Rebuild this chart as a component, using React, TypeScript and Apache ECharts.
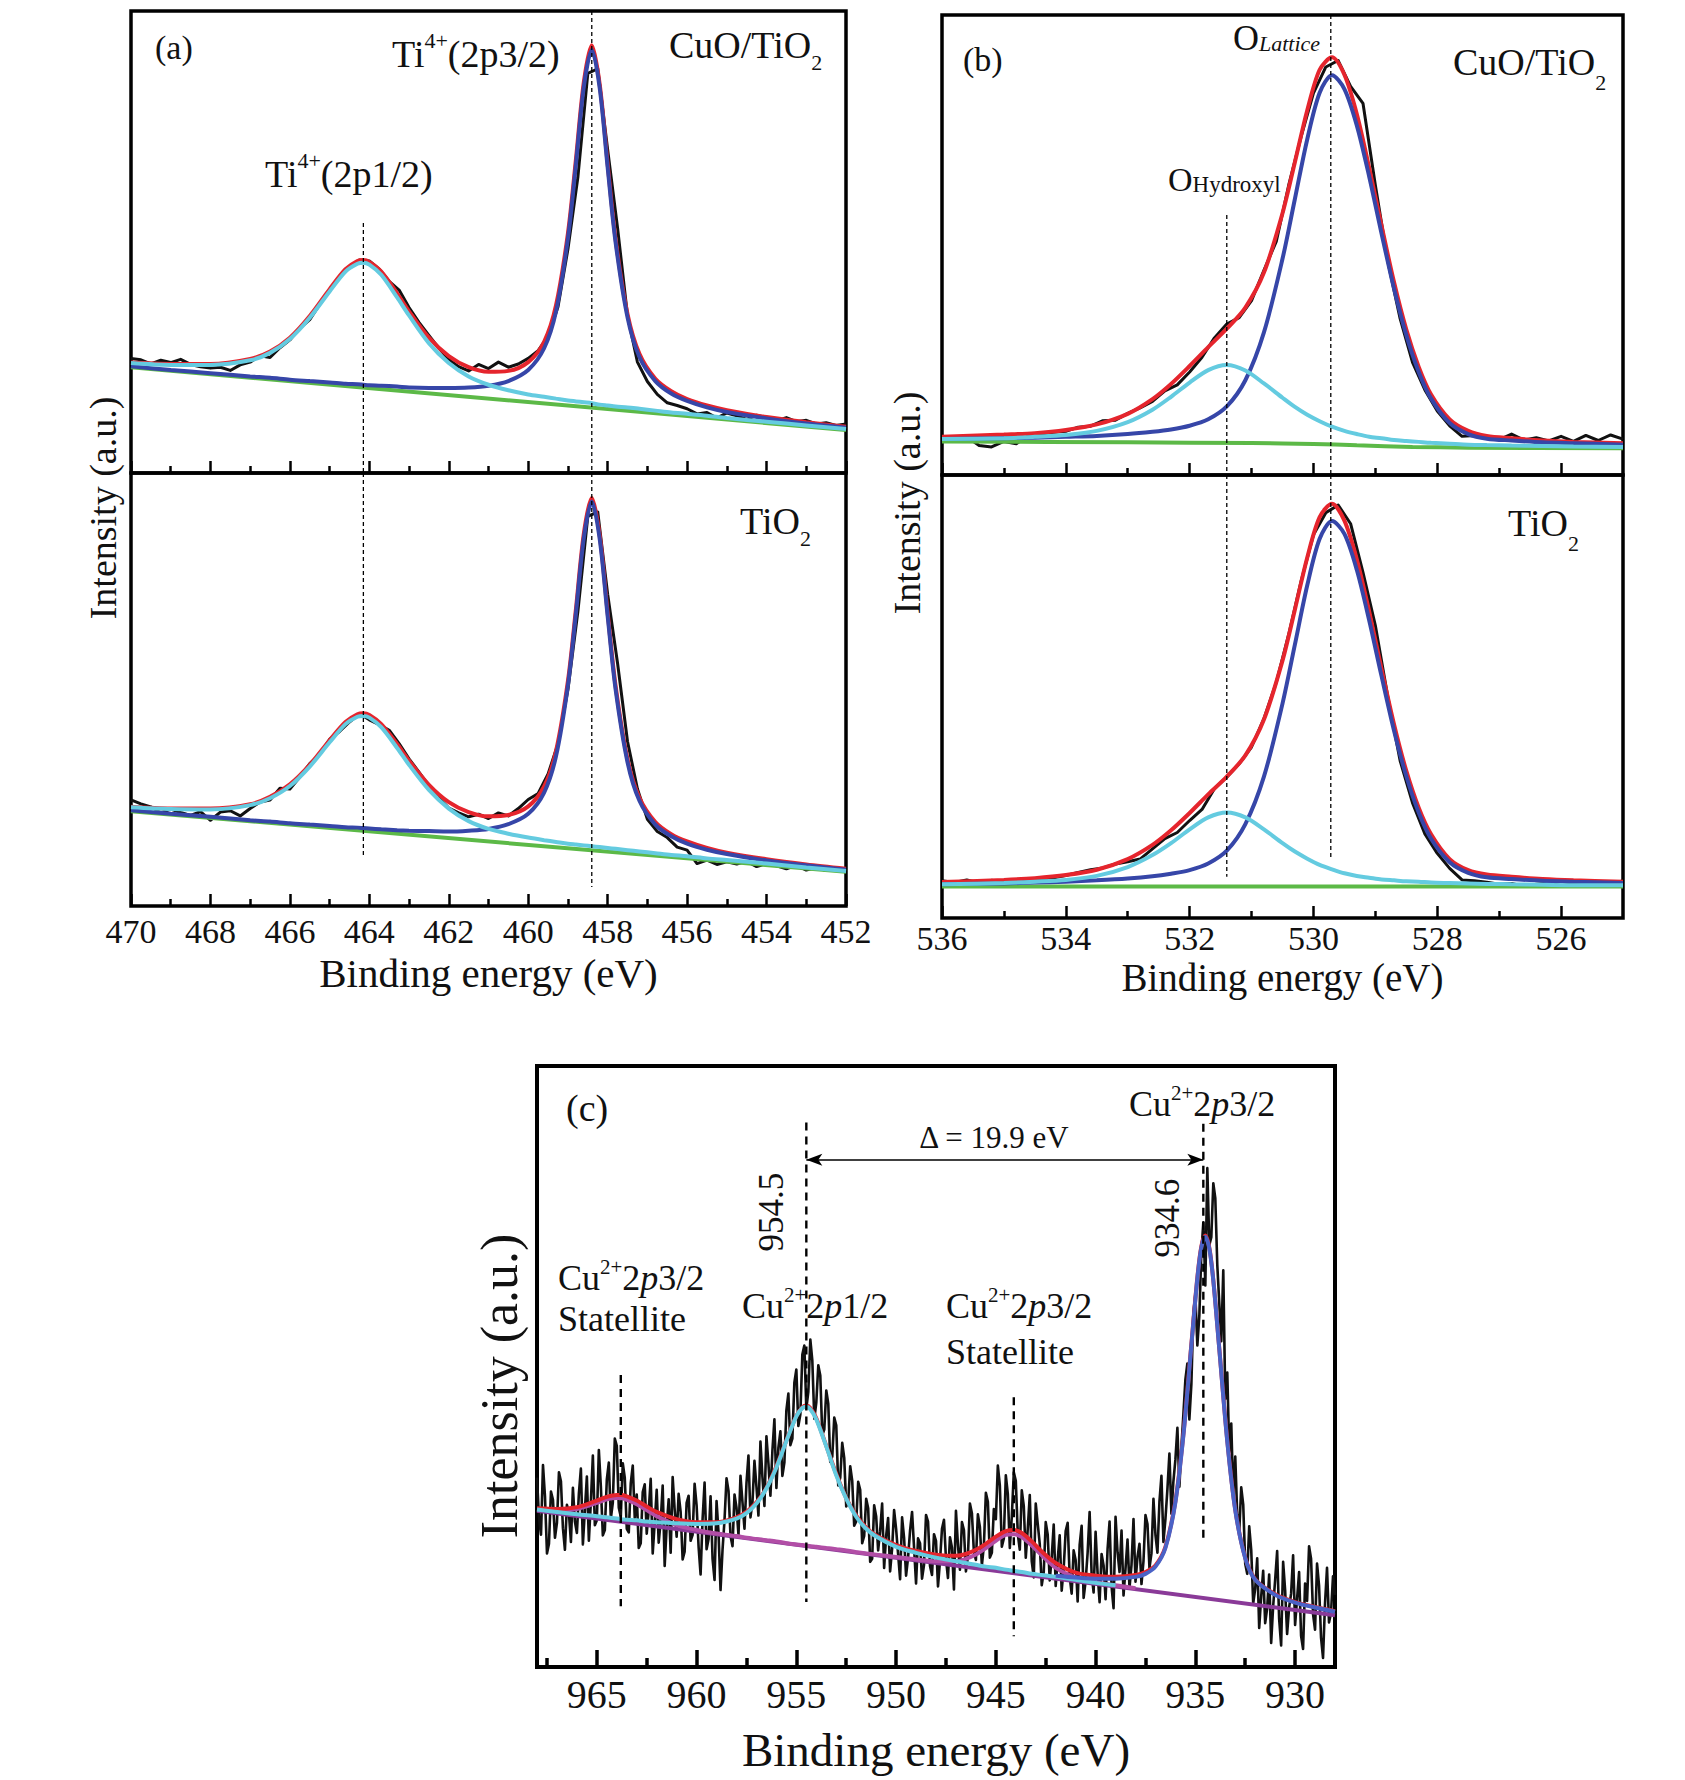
import React, { useEffect, useRef } from "react";
import * as echarts from "echarts";

const SERIF = '"Liberation Serif", "Times New Roman", Times, serif';
const INK = "#111111";
const RED = "#e5252d";
const NAVY = "#3646a8";
const CYAN = "#64cbe0";
const GREEN = "#5cb947";
const PURPLE = "#8a3a98";
const MAGENTA = "#b24ea6";
const CU_BLUE = "#4a62c6";

// ---------------- (a) Ti 2p ----------------
const tiFitEnergy = [470, 469, 468, 467, 466.5, 466, 465.5, 465, 464.6, 464.3, 464.15, 464, 463.7, 463.3, 463, 462.5, 462, 461.5, 461, 460.5, 460, 459.6, 459.3, 459, 458.8, 458.6, 458.4, 458.2, 458, 457.8, 457.5, 457.2, 456.8, 456.4, 456, 455.5, 455, 454, 453, 452];

const tiCuoEnvelope = [23.9, 23.6, 23.6, 24.7, 26.3, 29.3, 34.0, 39.8, 44.1, 45.9, 46.1, 45.7, 43.6, 38.9, 35.0, 29.3, 25.3, 22.9, 21.9, 22.1, 24.0, 28.4, 36.3, 51.9, 67.8, 84.6, 92.6, 84.1, 66.9, 50.6, 34.4, 25.8, 20.4, 17.7, 16.0, 14.6, 13.6, 12.1, 11.0, 10.0];
const tiCuoP32 = [23.1, 22.3, 21.6, 20.9, 20.6, 20.2, 19.9, 19.6, 19.3, 19.2, 19.1, 19.0, 18.9, 18.7, 18.5, 18.4, 18.4, 18.5, 18.9, 19.9, 22.3, 27.0, 35.0, 50.8, 66.7, 83.6, 91.6, 83.3, 66.1, 49.9, 33.7, 25.1, 19.9, 17.2, 15.6, 14.2, 13.2, 11.8, 10.7, 9.8];
const tiCuoP12 = [23.8, 23.4, 23.4, 24.4, 26.0, 29.0, 33.6, 39.3, 43.6, 45.3, 45.5, 45.1, 42.9, 38.0, 34.1, 28.1, 23.8, 20.9, 19.1, 17.9, 17.0, 16.5, 16.1, 15.7, 15.5, 15.3, 15.1, 14.8, 14.6, 14.4, 14.2, 13.9, 13.5, 13.1, 12.8, 12.4, 11.9, 11.1, 10.3, 9.5];
const tiCuoBackground = [[470, 22.9], [452, 9.3]];

const tiTio2Envelope = [22.9, 22.5, 22.5, 23.5, 25.2, 28.1, 32.6, 38.3, 42.5, 44.3, 44.5, 44.1, 42.0, 37.4, 33.6, 28.0, 24.0, 21.7, 20.7, 21.0, 23.0, 27.6, 35.8, 52.0, 68.5, 86.0, 94.3, 85.6, 67.7, 50.8, 33.9, 25.0, 19.4, 16.6, 14.9, 13.4, 12.3, 10.8, 9.6, 8.6];
const tiTio2P32 = [22.1, 21.3, 20.6, 19.8, 19.5, 19.1, 18.8, 18.5, 18.2, 18.1, 18.0, 17.9, 17.7, 17.5, 17.4, 17.3, 17.2, 17.4, 17.8, 18.9, 21.3, 26.2, 34.6, 51.0, 67.5, 85.0, 93.4, 84.7, 66.9, 50.0, 33.2, 24.3, 18.8, 16.1, 14.4, 13.0, 12.0, 10.5, 9.4, 8.4];
const tiTio2P12 = [22.8, 22.4, 22.3, 23.3, 24.9, 27.7, 32.2, 37.8, 42.0, 43.7, 43.9, 43.5, 41.3, 36.5, 32.6, 26.8, 22.5, 19.6, 17.8, 16.7, 15.8, 15.2, 14.8, 14.4, 14.2, 14.0, 13.8, 13.6, 13.4, 13.2, 12.9, 12.6, 12.2, 11.8, 11.5, 11.0, 10.6, 9.8, 8.9, 8.1];
const tiTio2Background = [[470, 21.9], [452, 7.9]];

// measured spectra, 0.25 eV steps from 470 eV downwards
const tiRawStart = 470;
const tiRawStep = 0.25;
const tiCuoRaw = [24.8, 24.5, 23.6, 24.4, 23.9, 24.6, 23.5, 23.0, 22.7, 22.9, 22.2, 23.4, 24.0, 25.4, 25.0, 27.1, 28.8, 31.3, 33.2, 36.5, 39.5, 42.5, 44.6, 46.1, 45.9, 44.1, 41.5, 39.6, 35.8, 32.6, 29.8, 27.0, 24.6, 23.0, 22.1, 23.5, 22.6, 24.0, 22.9, 23.6, 24.8, 26.5, 29.6, 36.0, 48.5, 64.0, 86.5, 87.5, 70.0, 53.0, 34.0, 24.0, 19.8, 17.0, 15.2, 14.6, 13.9, 12.8, 13.1, 11.9, 13.0, 12.4, 11.6, 12.5, 12.0, 11.3, 12.0, 11.1, 11.4, 10.6, 10.9, 10.3, 10.6];
const tiTio2Raw = [24.5, 23.6, 22.9, 21.5, 22.4, 21.6, 20.9, 21.8, 19.8, 21.7, 22.0, 20.8, 22.5, 24.0, 24.5, 27.2, 27.0, 29.8, 32.9, 35.0, 38.5, 40.3, 42.5, 44.4, 43.0, 41.9, 40.6, 37.5, 34.0, 30.9, 27.8, 25.0, 22.6, 21.5, 20.6, 21.2, 20.2, 21.5, 20.8, 22.5, 24.6, 26.0, 30.5, 37.5, 50.0, 68.0, 90.0, 91.0, 72.0, 56.0, 38.0, 27.0, 20.0, 17.2, 15.8, 13.6, 12.9, 9.8, 10.6, 9.6, 10.2, 9.7, 10.3, 9.1, 9.8, 9.3, 8.6, 9.4, 8.3, 8.9, 8.2, 8.6, 8.0];

const tiMajorTicks = [452, 454, 456, 458, 460, 462, 464, 466, 468, 470];
const tiMinorTicks = [453, 455, 457, 459, 461, 463, 465, 467, 469];

// ---------------- (b) O 1s ----------------
const oFitEnergy = [536, 535, 534.5, 534, 533.5, 533, 532.6, 532.3, 532, 531.7, 531.4, 531.1, 530.8, 530.5, 530.3, 530.1, 529.9, 529.7, 529.5, 529.3, 529.1, 528.9, 528.7, 528.5, 528.3, 528.1, 527.8, 527.5, 527.2, 526.8, 526.3, 525.8, 525];

const oCuoEnvelope = [8.3, 8.8, 9.1, 9.8, 11.0, 13.3, 16.5, 19.8, 23.7, 27.8, 31.8, 36.4, 44.0, 56.9, 68.0, 79.3, 88.1, 90.8, 87.0, 78.5, 66.8, 54.2, 42.0, 31.6, 23.5, 17.5, 12.1, 9.6, 8.5, 8.0, 7.5, 7.2, 6.9];
const oCuoLattice = [7.8, 8.0, 8.1, 8.3, 8.5, 8.9, 9.4, 9.9, 10.7, 12.1, 14.9, 20.6, 31.0, 47.0, 60.0, 73.0, 83.1, 86.9, 83.9, 76.0, 64.9, 52.5, 40.6, 30.4, 22.4, 16.6, 11.3, 8.9, 7.9, 7.5, 7.1, 6.9, 6.6];
const oCuoHydroxyl = [7.8, 8.0, 8.3, 8.7, 9.6, 11.5, 14.2, 17.0, 20.1, 22.8, 23.9, 22.7, 19.9, 16.8, 14.8, 13.1, 11.7, 10.5, 9.6, 8.9, 8.3, 8.0, 7.6, 7.4, 7.2, 7.0, 6.8, 6.6, 6.5, 6.4, 6.3, 6.2, 6.1];
const oCuoBackground = [[536, 7.3], [533, 7.1], [531, 6.95], [530, 6.75], [529.3, 6.45], [528.4, 6.1], [527.5, 5.95], [525, 5.8]];

const oTio2Envelope = [8.1, 8.6, 9.0, 9.7, 10.9, 13.3, 16.5, 19.8, 23.7, 27.9, 31.9, 36.7, 44.8, 58.1, 69.6, 81.4, 90.5, 93.5, 89.7, 81.0, 69.2, 56.2, 43.8, 33.2, 24.9, 18.9, 13.3, 10.8, 9.8, 9.3, 8.8, 8.5, 8.2];
const oTio2Lattice = [7.6, 7.8, 8.0, 8.2, 8.5, 8.9, 9.4, 10.0, 10.8, 12.3, 15.2, 21.2, 31.9, 48.4, 61.7, 75.1, 85.6, 89.6, 86.7, 78.6, 67.2, 54.6, 42.4, 32.0, 23.8, 17.9, 12.6, 10.2, 9.2, 8.8, 8.4, 8.2, 7.9];
const oTio2Hydroxyl = [7.6, 7.9, 8.2, 8.6, 9.5, 11.5, 14.2, 16.9, 20.0, 22.7, 23.8, 22.7, 20.0, 16.9, 15.0, 13.4, 12.0, 11.0, 10.1, 9.5, 9.1, 8.7, 8.5, 8.3, 8.2, 8.0, 7.9, 7.8, 7.7, 7.6, 7.5, 7.4, 7.4];
const oTio2Background = [[536, 7.1], [525, 7.1]];

// measured spectra, 0.2 eV steps from 536 eV downwards
const oRawStart = 536;
const oRawStep = 0.2;
const oCuoRaw = [8.0, 7.6, 8.3, 6.4, 6.1, 7.3, 6.8, 8.6, 8.9, 9.3, 9.5, 10.4, 10.6, 11.8, 11.9, 13.4, 14.6, 16.0, 18.3, 19.6, 22.4, 25.6, 29.8, 32.8, 34.2, 37.9, 44.5, 50.8, 63.0, 73.5, 83.0, 88.7, 90.1, 84.5, 80.8, 63.0, 46.5, 34.0, 24.5, 18.5, 13.9, 10.7, 8.4, 8.6, 8.3, 7.7, 8.9, 7.6, 8.1, 7.4, 8.4, 7.3, 8.6, 7.5, 8.7, 7.8];
const oTio2Raw = [8.4, 8.0, 8.6, 7.9, 8.5, 8.0, 8.4, 8.9, 8.6, 9.1, 9.6, 10.3, 10.9, 11.3, 12.2, 12.7, 13.3, 15.6, 17.9, 19.3, 22.0, 24.5, 29.2, 31.8, 34.8, 38.6, 45.0, 53.2, 64.0, 76.0, 86.5, 91.5, 93.2, 89.0, 78.0, 66.0, 50.0, 35.5, 26.0, 19.0, 14.6, 11.2, 8.6, 8.4, 8.1, 7.6, 7.8, 7.2, 7.6, 7.9, 7.3, 7.7, 7.4, 7.8, 7.5, 8.4];

const oMajorTicks = [526, 528, 530, 532, 534, 536];
const oMinorTicks = [527, 529, 531, 533, 535];

// ---------------- (c) Cu 2p ----------------
const cuFitEnergy = [968, 967, 966, 965, 964.5, 964, 963.8, 963.5, 963, 962.5, 962, 961, 960, 959, 958, 957.5, 957, 956.5, 956, 955.5, 955, 954.7, 954.5, 954.3, 954, 953.5, 953, 952.5, 952, 951.5, 951, 950, 949, 948, 947, 946.5, 946, 945.5, 945, 944.5, 944.1, 943.7, 943.2, 942.7, 942, 941, 940, 939, 938, 937.5, 937, 936.5, 936, 935.6, 935.2, 934.9, 934.7, 934.5, 934.3, 934.1, 933.8, 933.4, 933, 932.5, 932, 931, 930, 929, 928];

const cuEnvelope = [26.4, 26.3, 26.6, 27.7, 28.3, 28.6, 28.6, 28.4, 27.7, 26.7, 25.8, 24.6, 24.1, 24.1, 24.9, 25.8, 27.4, 29.8, 33.4, 37.7, 41.8, 43.2, 43.5, 43.1, 41.4, 36.8, 32.1, 28.1, 25.2, 23.2, 21.9, 20.3, 19.3, 18.7, 18.5, 18.8, 19.5, 20.5, 21.7, 22.6, 22.8, 22.3, 20.9, 19.2, 17.3, 15.7, 15.2, 15.0, 15.3, 15.8, 16.9, 20.0, 27.6, 38.7, 53.7, 64.8, 70.0, 71.8, 69.8, 64.4, 53.0, 37.7, 26.2, 18.2, 14.6, 12.1, 10.8, 10.0, 9.3];
const cu2p12 = [26.2, 25.8, 25.4, 25.1, 24.9, 24.7, 24.6, 24.5, 24.4, 24.2, 24.1, 23.9, 23.8, 23.9, 24.7, 25.6, 27.2, 29.7, 33.2, 37.6, 41.7, 43.1, 43.3, 42.9, 41.2, 36.7, 31.9, 28.0, 25.0, 23.0, 21.7, 20.0, 19.0, 18.2, 17.6, 17.3, 17.0, 16.7, 16.5, 16.2, 16.0, 15.8, 15.5, 15.3, 15.0, 14.5, 14.0, 13.6, 13.1, 12.9, 12.7, 12.4, 12.2, 12.0, 11.9, 11.7, 11.6, 11.5, 11.5, 11.4, 11.2, 11.1, 10.9, 10.7, 10.4, 10.0, 9.5, 9.1, 8.7];
const cuSatellites = [26.2, 26.0, 26.3, 27.3, 27.9, 28.1, 28.1, 27.8, 27.1, 26.1, 25.1, 23.6, 22.8, 22.2, 21.8, 21.5, 21.3, 21.1, 20.9, 20.6, 20.4, 20.3, 20.2, 20.1, 20.0, 19.8, 19.6, 19.4, 19.1, 18.9, 18.7, 18.3, 17.9, 17.6, 17.6, 18.0, 18.7, 19.8, 21.0, 22.0, 22.1, 21.6, 20.2, 18.6, 16.5, 14.9, 14.1, 13.6, 13.1, 12.8, 12.6, 12.4, 12.2, 12.0, 11.8, 11.7, 11.6, 11.5, 11.4, 11.3, 11.2, 11.0, 10.8, 10.6, 10.4, 10.0, 9.5, 9.1, 8.6];
const cu2p32 = [26.0, 25.6, 25.2, 24.7, 24.5, 24.3, 24.2, 24.1, 23.9, 23.6, 23.4, 23.0, 22.6, 22.1, 21.7, 21.5, 21.3, 21.1, 20.8, 20.6, 20.4, 20.3, 20.2, 20.1, 20.0, 19.8, 19.6, 19.3, 19.1, 18.9, 18.7, 18.3, 17.9, 17.5, 17.0, 16.8, 16.6, 16.4, 16.2, 16.1, 15.9, 15.8, 15.6, 15.4, 15.2, 14.9, 14.7, 14.7, 15.0, 15.5, 16.7, 19.8, 27.4, 38.5, 53.5, 64.6, 69.8, 71.6, 69.6, 64.3, 52.9, 37.5, 26.1, 18.1, 14.5, 12.0, 10.7, 9.9, 9.2];
const cuBackground = [[968, 26.0], [928, 8.6]];

// measured spectrum, 0.1 eV steps from 968 eV downwards
const cuRawStart = 968;
const cuRawStep = 0.1;
const cuRaw = [
  31.5, 24.8, 22.0, 33.6, 28.4, 18.9, 20.5, 29.2, 27.8, 21.5, 24.0, 32.4, 30.9, 23.1, 19.5, 27.0, 25.6, 20.8, 29.8, 24.2,
  22.3, 28.9, 33.0, 20.4, 26.1, 31.7, 21.0, 27.5, 35.2, 23.6, 24.4, 36.1, 30.1, 21.9, 22.8, 31.2, 34.0, 24.7, 27.3, 38.0,
  36.8, 26.5, 25.0, 33.9, 31.5, 23.0, 22.4, 30.6, 33.5, 24.8, 28.7, 19.8, 20.6, 29.1, 30.4, 22.2, 26.0, 31.3, 18.9, 24.0,
  29.5, 20.7, 24.3, 30.2, 16.8, 23.4, 27.9, 19.0, 31.6, 26.2, 21.7, 28.8, 25.8, 17.9, 19.2, 27.3, 28.5, 21.0, 22.0, 30.5,
  26.9, 20.0, 15.4, 24.6, 30.7, 19.6, 21.3, 28.4, 18.0, 14.5, 27.6, 22.3, 12.8, 19.5, 24.5, 31.4, 29.3, 21.8, 20.1, 28.7,
  26.5, 22.0, 31.8, 27.4, 23.0, 30.6, 35.2, 24.9, 27.4, 34.3, 30.0, 25.2, 37.5, 31.6, 26.8, 38.4, 33.9, 28.5, 36.0, 41.2,
  29.8, 36.5, 39.2, 31.8, 34.0, 42.7, 45.5, 36.9, 38.0, 47.3, 49.5, 40.1, 42.0, 52.0, 53.5, 43.0, 45.8, 54.5, 51.0, 41.3,
  44.0, 50.2, 48.5, 38.6, 39.5, 46.0, 43.8, 34.1, 35.0, 41.5, 40.2, 30.2, 31.5, 37.3, 34.8, 26.7, 27.6, 33.4, 31.0, 23.5,
  24.2, 30.8, 29.5, 20.6, 21.8, 28.0, 26.4, 17.5, 18.0, 26.9, 25.1, 19.4, 22.6, 27.2, 16.5, 21.8, 24.8, 15.9, 19.7, 26.1,
  23.0, 18.8, 14.6, 24.9, 21.5, 15.2, 18.2, 22.7, 25.8, 19.9, 13.9, 21.4, 20.6, 14.7, 17.0, 25.3, 24.2, 16.8, 15.3, 22.1,
  21.0, 13.4, 17.6, 23.0, 24.5, 18.0, 14.8, 21.6, 19.9, 12.9, 26.0, 20.3, 16.2, 24.1, 22.8, 15.9, 18.4, 27.2, 25.6, 19.1,
  17.8, 25.4, 23.3, 16.9, 20.2, 29.0, 27.5, 18.2, 19.0, 26.3, 24.6, 33.5, 30.2, 20.0, 21.4, 31.9, 28.8, 19.8, 25.0, 32.4,
  31.0, 22.1, 19.5, 29.4, 26.8, 18.2, 23.0, 28.6, 17.6, 14.9, 27.2, 23.8, 20.5, 13.6, 15.8, 24.1, 22.0, 14.4, 18.3, 23.7,
  13.5, 17.9, 21.9, 12.7, 16.4, 22.6, 24.0, 15.1, 12.2, 19.4, 17.8, 10.9, 20.3, 23.5, 11.5, 14.3, 19.0, 25.8, 15.5, 12.4,
  22.5, 15.6, 10.8, 18.8, 16.9, 11.3, 19.6, 24.2, 13.4, 9.8, 25.0, 19.1, 15.8, 22.7, 11.9, 16.4, 21.2, 13.2, 17.0, 24.6,
  14.2, 18.3, 20.5, 13.8, 17.6, 25.3, 23.8, 16.5, 18.9, 28.0, 22.0, 19.0, 27.5, 31.8, 20.8, 24.6, 29.6, 35.5, 25.5, 30.9,
  34.5, 39.8, 30.0, 36.6, 42.0, 47.8, 50.5, 41.2, 47.0, 58.9, 62.0, 53.5, 58.5, 68.9, 74.0, 63.5, 83.0, 70.2, 71.5, 80.5,
  78.0, 66.9, 60.5, 54.2, 66.0, 44.6, 49.0, 35.8, 40.5, 28.4, 35.0, 25.3, 22.5, 29.9, 27.0, 17.2, 15.5, 23.4, 19.5, 10.6,
  13.0, 18.1, 6.5, 11.7, 16.0, 7.3, 9.8, 15.4, 4.0, 10.1, 14.5, 19.3, 8.0, 3.6, 17.5, 12.8, 5.5, 9.9, 12.2, 18.6,
  7.0, 11.4, 15.8, 5.2, 3.0, 13.9, 11.0, 20.1, 18.0, 8.8, 6.2, 17.2, 13.6, 4.9, 1.5, 10.6, 16.5, 7.4, 9.0, 15.1,
  12.0,
];

const cuMajorTicks = [930, 935, 940, 945, 950, 955, 960, 965];
const cuMinorTicks = [932.5, 937.5, 942.5, 947.5, 952.5, 957.5, 962.5, 967.5];

// peak markers: [energy, top, bottom] in each panel's 0-100 intensity scale
const tiMarkersUpper = [[464.15, 54.1, 0], [458.4, 100, 0]];
const tiMarkersLower = [[464.15, 100, 11.3], [458.4, 100, 4.4]];
const oMarkersUpper = [[531.4, 56.5, 0], [529.72, 100, 0]];
const oMarkersLower = [[531.4, 100, 9.3], [529.72, 100, 13.5]];
const cuMarkers = [[963.8, 48.6, 10.1], [954.5, 90.6, 10.8], [944.1, 44.9, 5.1], [934.6, 90.4, 20.7]];
const cuSplitting = { from: 954.5, to: 934.6, level: 84.4 };

// ---------------- helpers ----------------
const pair = (xs: number[], ys: number[]) => xs.map((x, i) => [x, ys[i]]);
const stepped = (start: number, step: number, ys: number[]) =>
  ys.map((y, i) => [Math.round((start - i * step) * 100) / 100, y]);
const within = (d: number[][], lo: number, hi: number) => d.filter(([x]) => x >= lo && x <= hi);

let measureCtx: CanvasRenderingContext2D | null = null;
function textWidth(t: string, size: number, italic: boolean) {
  if (!measureCtx) measureCtx = document.createElement("canvas").getContext("2d");
  measureCtx!.font = `${italic ? "italic " : ""}${size}px ${SERIF}`;
  return measureCtx!.measureText(t).width;
}

type Seg = { t: string; size: number; dy?: number; italic?: boolean };
function runText(x0: number, y: number, segs: Seg[]) {
  const out: any[] = [];
  let x = x0;
  for (const s of segs) {
    out.push({
      type: "text",
      x,
      y: y + (s.dy || 0),
      silent: true,
      style: {
        text: s.t,
        fontFamily: SERIF,
        fontSize: s.size,
        fontStyle: s.italic ? "italic" : "normal",
        fill: INK,
        align: "left",
        verticalAlign: "middle",
      },
    });
    x += textWidth(s.t, s.size, !!s.italic);
  }
  return out;
}
function centerText(x: number, y: number, text: string, size: number, rotate = false) {
  return {
    type: "text",
    x,
    y,
    rotation: rotate ? Math.PI / 2 : 0,
    silent: true,
    style: { text, fontFamily: SERIF, fontSize: size, fill: INK, align: "center", verticalAlign: "middle" },
  };
}
const cuLabel = (x: number, y: number, level: string) =>
  runText(x, y, [
    { t: "Cu", size: 36 },
    { t: "2+", size: 21, dy: -11 },
    { t: "2", size: 36 },
    { t: "p", size: 36, italic: true },
    { t: level, size: 36 },
  ]);

function buildOption() {
  const grids = [
    { left: 131, top: 11, width: 715, height: 462, borderWidth: 3.5 },
    { left: 131, top: 473, width: 715, height: 433, borderWidth: 3.5 },
    { left: 942, top: 15, width: 681, height: 460, borderWidth: 3.5 },
    { left: 942, top: 475, width: 681, height: 443, borderWidth: 3.5 },
    { left: 537, top: 1066, width: 798, height: 601, borderWidth: 4 },
  ].map((g) => ({ ...g, show: true, borderColor: "#000", backgroundColor: "transparent" }));

  const major = (grid: number, min: number, max: number, ticks: number[], len: number, tw: number, label: any, name?: any) => ({
    type: "value",
    gridIndex: grid,
    min,
    max,
    inverse: true,
    position: "bottom",
    axisLine: { show: false },
    splitLine: { show: false },
    axisTick: { show: true, inside: true, length: len, customValues: ticks, lineStyle: { color: "#000", width: tw } },
    axisLabel: label
      ? { show: true, customValues: ticks, fontFamily: SERIF, color: INK, ...label }
      : { show: false },
    ...(name || {}),
  });
  const minor = (grid: number, min: number, max: number, ticks: number[], len: number, tw: number) => ({
    type: "value",
    gridIndex: grid,
    min,
    max,
    inverse: true,
    position: "bottom",
    offset: 0,
    axisLine: { show: false },
    splitLine: { show: false },
    axisLabel: { show: false },
    axisTick: { show: true, inside: true, length: len, customValues: ticks, lineStyle: { color: "#000", width: tw } },
  });
  const axisTitle = (size: number, gap: number) => ({
    name: "Binding energy (eV)",
    nameLocation: "middle",
    nameGap: gap,
    nameTextStyle: { fontFamily: SERIF, fontSize: size, color: INK },
  });

  const xAxis = [
    major(0, 452, 470, tiMajorTicks, 12, 2.5, null),
    major(1, 452, 470, tiMajorTicks, 12, 2.5, { fontSize: 34, margin: 8 }, axisTitle(41, 46)),
    major(2, 525, 536, oMajorTicks, 12, 2.5, null),
    major(3, 525, 536, oMajorTicks, 12, 2.5, { fontSize: 34, margin: 3 }, axisTitle(39, 40)),
    major(4, 928, 968, cuMajorTicks, 17, 3.5, { fontSize: 40, margin: 7 }, axisTitle(47, 59)),
    minor(0, 452, 470, tiMinorTicks, 7, 2.5),
    minor(1, 452, 470, tiMinorTicks, 7, 2.5),
    minor(2, 525, 536, oMinorTicks, 7, 2.5),
    minor(3, 525, 536, oMinorTicks, 7, 2.5),
    minor(4, 928, 968, cuMinorTicks, 9, 3.5),
  ];
  const yAxis = [0, 1, 2, 3, 4].map((g) => ({ type: "value", gridIndex: g, min: 0, max: 100, show: false }));

  const fit = (grid: number, data: number[][], color: string, z: number, width = 4) => ({
    type: "line",
    xAxisIndex: grid,
    yAxisIndex: grid,
    data,
    symbol: "none",
    smooth: 0.3,
    lineStyle: { color, width },
    z,
    silent: true,
  });
  const raw = (grid: number, data: number[][], width: number) => ({
    type: "line",
    xAxisIndex: grid,
    yAxisIndex: grid,
    data,
    symbol: "none",
    smooth: false,
    lineStyle: { color: INK, width, join: "round" },
    z: 2,
    silent: true,
  });
  const marker = (grid: number, m: number[], width: number, dash: number[], extra: any = {}) => ({
    type: "line",
    xAxisIndex: grid,
    yAxisIndex: grid,
    data: [
      [m[0], m[1]],
      [m[0], m[2]],
    ],
    symbol: "none",
    lineStyle: { color: "#000", width, type: dash },
    z: 9,
    silent: true,
    ...extra,
  });

  const series: any[] = [
    // (a) CuO/TiO2
    raw(0, stepped(tiRawStart, tiRawStep, tiCuoRaw), 3),
    fit(0, tiCuoBackground, GREEN, 3),
    fit(0, pair(tiFitEnergy, tiCuoEnvelope), RED, 4),
    fit(0, pair(tiFitEnergy, tiCuoP32), NAVY, 5),
    fit(0, pair(tiFitEnergy, tiCuoP12), CYAN, 6),
    // (a) TiO2
    raw(1, stepped(tiRawStart, tiRawStep, tiTio2Raw), 3),
    fit(1, tiTio2Background, GREEN, 3),
    fit(1, pair(tiFitEnergy, tiTio2Envelope), RED, 4),
    fit(1, pair(tiFitEnergy, tiTio2P32), NAVY, 5),
    fit(1, pair(tiFitEnergy, tiTio2P12), CYAN, 6),
    // (b) CuO/TiO2
    raw(2, stepped(oRawStart, oRawStep, oCuoRaw), 3),
    fit(2, oCuoBackground, GREEN, 3),
    fit(2, pair(oFitEnergy, oCuoEnvelope), RED, 4),
    fit(2, pair(oFitEnergy, oCuoLattice), NAVY, 5),
    fit(2, pair(oFitEnergy, oCuoHydroxyl), CYAN, 6),
    // (b) TiO2
    raw(3, stepped(oRawStart, oRawStep, oTio2Raw), 3),
    fit(3, oTio2Background, GREEN, 3),
    fit(3, pair(oFitEnergy, oTio2Envelope), RED, 4),
    fit(3, pair(oFitEnergy, oTio2Lattice), NAVY, 5),
    fit(3, pair(oFitEnergy, oTio2Hydroxyl), CYAN, 6),
    // (c) Cu 2p
    raw(4, stepped(cuRawStart, cuRawStep, cuRaw), 2.6),
    fit(4, cuBackground, PURPLE, 3),
    fit(4, within(pair(cuFitEnergy, cuSatellites), 938, 968), MAGENTA, 4),
    fit(4, pair(cuFitEnergy, cuEnvelope), RED, 5),
    fit(4, within(pair(cuFitEnergy, cu2p12), 939, 968), CYAN, 6),
    fit(4, within(pair(cuFitEnergy, cu2p32), 928, 942), CU_BLUE, 7),
  ];
  tiMarkersUpper.forEach((m) => series.push(marker(0, m, 1.3, [4, 3])));
  tiMarkersLower.forEach((m) => series.push(marker(1, m, 1.3, [4, 3])));
  oMarkersUpper.forEach((m) => series.push(marker(2, m, 1.3, [4, 3])));
  oMarkersLower.forEach((m) => series.push(marker(3, m, 1.3, [4, 3])));
  cuMarkers.forEach((m, i) =>
    series.push(
      marker(
        4,
        m,
        2.4,
        [8, 6],
        i === 1
          ? {
              markLine: {
                silent: true,
                symbol: ["arrow", "arrow"],
                symbolSize: [9, 16],
                label: { show: false },
                lineStyle: { color: "#000", width: 1.5, type: "solid" },
                data: [
                  [
                    { coord: [cuSplitting.from, cuSplitting.level] },
                    { coord: [cuSplitting.to, cuSplitting.level] },
                  ],
                ],
              },
            }
          : {}
      )
    )
  );

  const elements: any[] = [
    // (a)
    ...runText(155, 47, [{ t: "(a)", size: 34 }]),
    ...runText(392, 54, [
      { t: "Ti", size: 38 },
      { t: "4+", size: 22, dy: -14 },
      { t: "(2p3/2)", size: 38 },
    ]),
    ...runText(265, 174, [
      { t: "Ti", size: 38 },
      { t: "4+", size: 22, dy: -14 },
      { t: "(2p1/2)", size: 38 },
    ]),
    ...runText(669, 45, [
      { t: "CuO/TiO", size: 38 },
      { t: "2", size: 22, dy: 17 },
    ]),
    ...runText(740, 521, [
      { t: "TiO", size: 38 },
      { t: "2", size: 22, dy: 17 },
    ]),
    centerText(103, 508, "Intensity (a.u.)", 38, true),
    // (b)
    ...runText(963, 59, [{ t: "(b)", size: 34 }]),
    ...runText(1233, 38, [
      { t: "O", size: 36 },
      { t: "Lattice", size: 22, italic: true, dy: 5 },
    ]),
    ...runText(1168, 179, [
      { t: "O", size: 34 },
      { t: "Hydroxyl", size: 23, dy: 5 },
    ]),
    ...runText(1453, 62, [
      { t: "CuO/TiO", size: 38 },
      { t: "2", size: 22, dy: 20 },
    ]),
    ...runText(1508, 523, [
      { t: "TiO", size: 38 },
      { t: "2", size: 22, dy: 20 },
    ]),
    centerText(907, 503, "Intensity (a.u.)", 38, true),
    // (c)
    ...runText(566, 1108, [{ t: "(c)", size: 38 }]),
    ...cuLabel(1129, 1104, "3/2"),
    ...cuLabel(558, 1278, "3/2"),
    ...runText(558, 1319, [{ t: "Statellite", size: 36 }]),
    ...cuLabel(742, 1306, "1/2"),
    ...cuLabel(946, 1306, "3/2"),
    ...runText(946, 1352, [{ t: "Statellite", size: 36 }]),
    centerText(994, 1137, "\u0394 = 19.9 eV", 31),
    centerText(771, 1212, "954.5", 35, true),
    centerText(1167, 1218, "934.6", 35, true),
    centerText(499, 1386, "Intensity (a.u.)", 52, true),
  ];

  return {
    animation: false,
    backgroundColor: "#ffffff",
    grid: grids,
    xAxis,
    yAxis,
    series,
    graphic: { elements },
  };
}

export default function App() {
  const ref = useRef<HTMLDivElement>(null);
  useEffect(() => {
    document.body.style.margin = "0";
    const el = ref.current;
    if (!el) return;
    const chart = echarts.init(el, null, { renderer: "svg" });
    chart.setOption(buildOption() as any);
    return () => chart.dispose();
  }, []);
  return <div ref={ref} style={{ width: 1685, height: 1780, background: "#fff" }} />;
}
